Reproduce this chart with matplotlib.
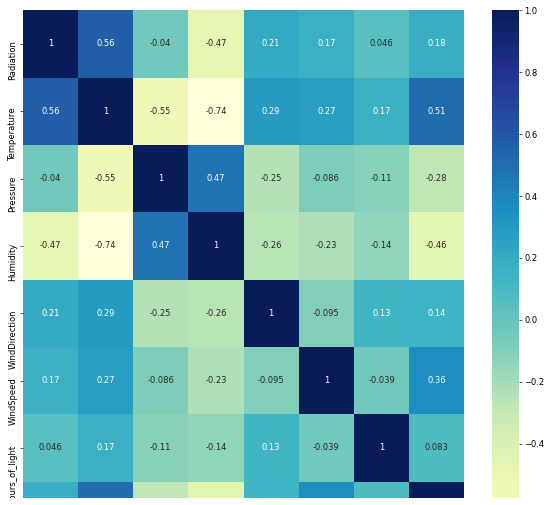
import matplotlib
matplotlib.use("Agg")
import matplotlib.pyplot as plt
import numpy as np
import pandas as pd
import seaborn as sns
from matplotlib.patches import Rectangle

labels = ["Radiation", "Temperature", "Pressure", "Humidity",
          "WindDirection", "WindSpeed", "Hours_of_light", "Month"]

radiation = [1, 0.56, -0.04, -0.47, 0.21, 0.17, 0.046, 0.18]
temperature = [0.56, 1, -0.55, -0.74, 0.29, 0.27, 0.17, 0.51]
pressure = [-0.04, -0.55, 1, 0.47, -0.25, -0.086, -0.11, -0.28]
humidity = [-0.47, -0.74, 0.47, 1, -0.26, -0.23, -0.14, -0.46]
wind_direction = [0.21, 0.29, -0.25, -0.26, 1, -0.095, 0.13, 0.14]
wind_speed = [0.17, 0.27, -0.086, -0.23, -0.095, 1, -0.039, 0.36]
hours_of_light = [0.046, 0.17, -0.11, -0.14, 0.13, -0.039, 1, 0.083]
month = [0.18, 0.51, -0.28, -0.46, 0.14, 0.36, 0.083, 1]

corr = pd.DataFrame([radiation, temperature, pressure, humidity,
                     wind_direction, wind_speed, hours_of_light, month],
                    index=labels, columns=labels)

fs = 6.0
plt.rcParams['font.family'] = ['DejaVu Sans']

fig = plt.figure(figsize=(5.5, 5.05), dpi=100)
ax = fig.add_axes([0.0413, -0.0871, 0.8029, 1.0667])
cax = fig.add_axes([0.894, -0.0871, 0.0502, 1.0667])

# x labels sit below the cropped bottom edge in the original, so leave them off
sns.heatmap(corr, annot=True, cmap="YlGnBu", ax=ax, cbar_ax=cax,
            xticklabels=False, annot_kws={"size": fs})

ax.set_xlabel("")
ax.set_ylabel("")
plt.setp(ax.get_yticklabels(), rotation=90, va="center_baseline", fontsize=fs)
ax.tick_params(length=1.9, width=0.45, pad=1.9)

cax.tick_params(labelsize=fs, length=1.9, width=0.45, pad=1.9)
cax.set_yticks([-0.4, -0.2, 0.0, 0.2, 0.4, 0.6, 0.8, 1.0])

# bottom strip of the original image is blank
fig.add_artist(Rectangle((0, 0), 1, 0.0145, transform=fig.transFigure,
                         facecolor="white", edgecolor="none", zorder=100))

fig.savefig("out.png", dpi=100)
